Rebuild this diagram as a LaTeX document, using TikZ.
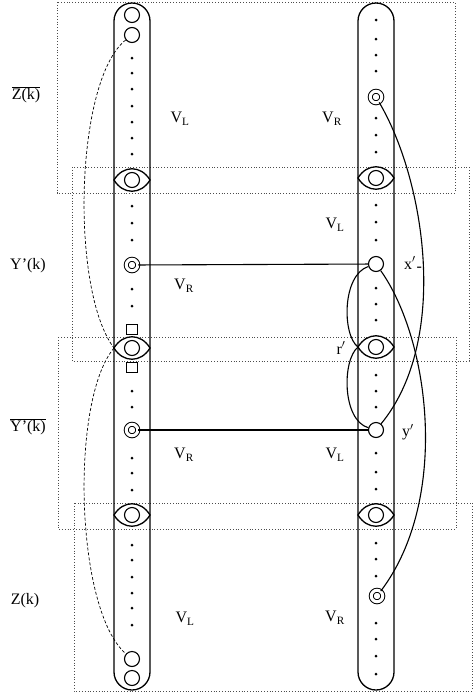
\documentclass[tikz,border=0pt]{standalone}
\usepackage{fontspec}
\setmainfont{Liberation Serif}
\usetikzlibrary{shapes.geometric}

\begin{document}
\begin{tikzpicture}[x=1pt,y=-1pt,
    every node/.style={font=\fontsize{16}{19}\selectfont},
    ring/.style={circle,draw,line width=1.1pt,minimum size=15pt,inner sep=0pt},
    dring/.style={circle,draw,line width=1pt,double,double distance=3pt,minimum size=11.5pt,inner sep=0pt},
    sq/.style={rectangle,draw,line width=1pt,minimum width=11pt,minimum height=10pt,inner sep=0pt},
    bar/.style={draw,line width=1.3pt,rounded corners=18pt},
    frame/.style={draw,dotted,line width=0.8pt,black!70},
    link/.style={line width=1.1pt},
    hop/.style={dash pattern=on 3pt off 2pt,line width=0.7pt},
    eye/.pic={
        \draw[line width=1.3pt,fill=white] (-18,0) .. controls (-9,-15) and (9,-15) .. (18,0)
            .. controls (9,15) and (-9,15) .. (-18,0) -- cycle;
        \coordinate (-w) at (-18,0);
        \node[ring] (-c) at (0,0) {};}
]
\useasboundingbox (0,0) rectangle (474,694);

% dotted layers
\draw[frame] (57,2) rectangle (455,193);
\draw[frame] (72,167) rectangle (469,361);
\draw[frame] (58,337) rectangle (456,529);
\draw[frame] (74,503) rectangle (472,691);

% the two columns
\draw[bar] (114,3) rectangle (150,690);
\draw[bar] (358,3) rectangle (394,690);

\foreach \y in {58,73,89,106,122,138,154,206,223,240,289,306,391,407,458,473,490,545,560,577,593,608,625}
    \fill (132,\y) circle (1.5);
\foreach \y in {20,39,55,71,118,135,152,205,222,240,288,304,320,375,391,407,453,472,489,543,559,576,623,639,656,674}
    \fill (376,\y) circle (1.5);

% left column
\node[ring] (lt1) at (132,15) {};
\node[ring] (lt2) at (132,35) {};
\pic (le1) at (132,180) {eye};
\node[dring] (ly) at (132,265) {};
\node[sq] (sqa) at (132,329) {};
\pic (le2) at (132,348) {eye};
\node[sq] (sqb) at (132,367) {};
\node[dring] (lyb) at (132,430) {};
\pic (le3) at (132,515) {eye};
\node[ring] (lb1) at (132,659) {};
\node[ring] (lb2) at (132,678) {};

% right column
\node[dring] (rz) at (376,97) {};
\pic (re1) at (376,178) {eye};
\node[ring] (rx) at (376,264) {};
\pic (rr) at (376,347) {eye};
\node[ring] (ry) at (376,430) {};
\pic (re3) at (376,515) {eye};
\node[dring] (rzb) at (377,596) {};

% labels
\node (zbar) at (26,95) {$\overline{\mbox{Z(k)}}$};
\node (yk) at (28,266) {Y'(k)};
\node (ybar) at (28,427) {$\overline{\mbox{Y'(k)}}$};
\node (zk) at (25,601) {Z(k)};
\node (vl1) at (180,119) {V$_{\mathrm{L}}$};
\node (vr1) at (332,119) {V$_{\mathrm{R}}$};
\node (vl2) at (335,225) {V$_{\mathrm{L}}$};
\node (vr2) at (184,286) {V$_{\mathrm{R}}$};
\node (xl) at (413,264) {x$'$\kern1pt\raisebox{-2pt}{-}};
\node (rl) at (341,348) {r$'$};
\node (yl) at (408,432) {y$'$};
\node (vr3) at (184,455) {V$_{\mathrm{R}}$};
\node (vl3) at (335,455) {V$_{\mathrm{L}}$};
\node (vl4) at (185,619) {V$_{\mathrm{L}}$};
\node (vr4) at (335,618) {V$_{\mathrm{R}}$};

% connectors
\draw[link] (ly) -- (rx);
\draw[link] (lyb) -- (ry);
\draw[link] (rz) .. controls (425,180) and (450,340) .. (ry);
\draw[link] (rx) .. controls (430,340) and (450,500) .. (rzb);
\draw[link] (rx) .. controls (342,275) and (342,335) .. (rr-w);
\draw[link] (rr-w) .. controls (342,360) and (342,420) .. (ry);
\draw[hop] (lt2) .. controls (75,80) and (70,290) .. (le2-w);
\draw[hop] (le2-w) .. controls (70,400) and (75,610) .. (lb1);
\end{tikzpicture}
\end{document}
